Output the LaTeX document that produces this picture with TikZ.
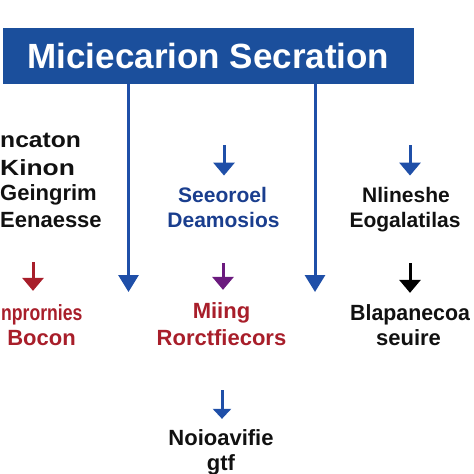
\documentclass[tikz,border=0pt]{standalone}
\usepackage{fontspec}
\setmainfont{Liberation Sans}
\usetikzlibrary{arrows.meta}
\definecolor{tblue}{HTML}{1B4F9C}
\definecolor{ablue}{HTML}{1F4FA8}
\definecolor{dred}{HTML}{A81E2A}
\definecolor{purp}{HTML}{6B1A7E}
\definecolor{tblk}{HTML}{111111}
\definecolor{mblue}{HTML}{1A3E8E}
\begin{document}
\begin{tikzpicture}[x=1pt,y=-1pt,
  lbl/.style={font=\bfseries\fontsize{22}{22}\selectfont, inner sep=0pt, anchor=base, text=tblk},
  titlebox/.style={fill=tblue, text=white, minimum width=411pt, minimum height=56pt, inner sep=0pt,
     font=\bfseries\fontsize{35}{35}\selectfont},
  larrow/.style={draw=ablue, line width=3pt, -{Triangle[width=20pt,length=17pt]}},
  sarrow/.style={line width=3pt, -{Triangle[width=21pt,length=13pt]}}]
\useasboundingbox (0,0) rectangle (474,474);
\node[titlebox] (title) at (208.5,55.5) {Miciecarion Secration};
% long connectors
\coordinate (e1) at (128.5,292);
\coordinate (e2) at (315,292);
\draw[larrow] (title.south -| e1) -- (e1);
\draw[larrow] (title.south -| e2) -- (e2);
% left column
\node[lbl, anchor=base west] (l1) at (0,147) {\scalebox{1.12}[1]{ncaton}};
\node[lbl, anchor=base west] (l2) at (0,175) {\scalebox{1.2}[1]{Kinon}};
\node[lbl, anchor=base west] (l3) at (0,200) {Geingrim};
\node[lbl, anchor=base west] (l4) at (0,227) {Eenaesse};
% middle top
\coordinate (ma) at (224,145);
\node[lbl, text=mblue, font=\bfseries\fontsize{21}{21}\selectfont] (m1) at (222.5,202) {Seeoroel};
\node[lbl, text=mblue, font=\bfseries\fontsize{21}{21}\selectfont] (m2) at (223.5,227) {Deamosios};
\draw[sarrow, draw=ablue, fill=ablue, shorten >=11pt] (ma) -- (ma |- m1.north);
% right top
\coordinate (ra) at (410,145);
\node[lbl, font=\bfseries\fontsize{21}{21}\selectfont] (r1) at (406,202) {Nlineshe};
\node[lbl, font=\bfseries\fontsize{21}{21}\selectfont] (r2) at (405,227) {Eogalatilas};
\draw[sarrow, draw=ablue, fill=ablue, shorten >=11pt] (ra) -- (ra |- r1.north);
% row 2 left
\coordinate (na) at (33,262);
\node[lbl, text=dred, anchor=base west] (n1) at (1,320) {\scalebox{0.8}[1]{nprornies}};
\node[lbl, text=dred] (n2) at (41.5,345) {Bocon};
\draw[sarrow, draw=dred, fill=dred, shorten >=13pt] (na) -- (na |- n1.north);
% row 2 middle
\coordinate (pa) at (223,263);
\node[lbl, text=dred] (p1) at (221.5,318) {Miing};
\node[lbl, text=dred] (p2) at (221.5,345) {Rorctfiecors};
\draw[sarrow, draw=purp, fill=purp, shorten >=12pt] (pa) -- (pa |- p1.north);
% row 2 right
\coordinate (qa) at (410,263);
\node[lbl, anchor=base west] (q1) at (350,320) {\scalebox{0.97}[1]{Blapanecoa}};
\node[lbl] (q2) at (408.5,345) {seuire};
\draw[sarrow, draw=black, fill=black, shorten >=11pt] (qa) -- (qa |- q1.north);
% bottom
\coordinate (ba) at (222,390);
\node[lbl] (b1) at (221,445) {Noioavifie};
\node[lbl] (b2) at (221,470) {gtf};
\draw[line width=3pt, draw=ablue, -{Triangle[width=18pt,length=10pt]}, shorten >=10pt] (ba) -- (ba |- b1.north);
\end{tikzpicture}
\end{document}
